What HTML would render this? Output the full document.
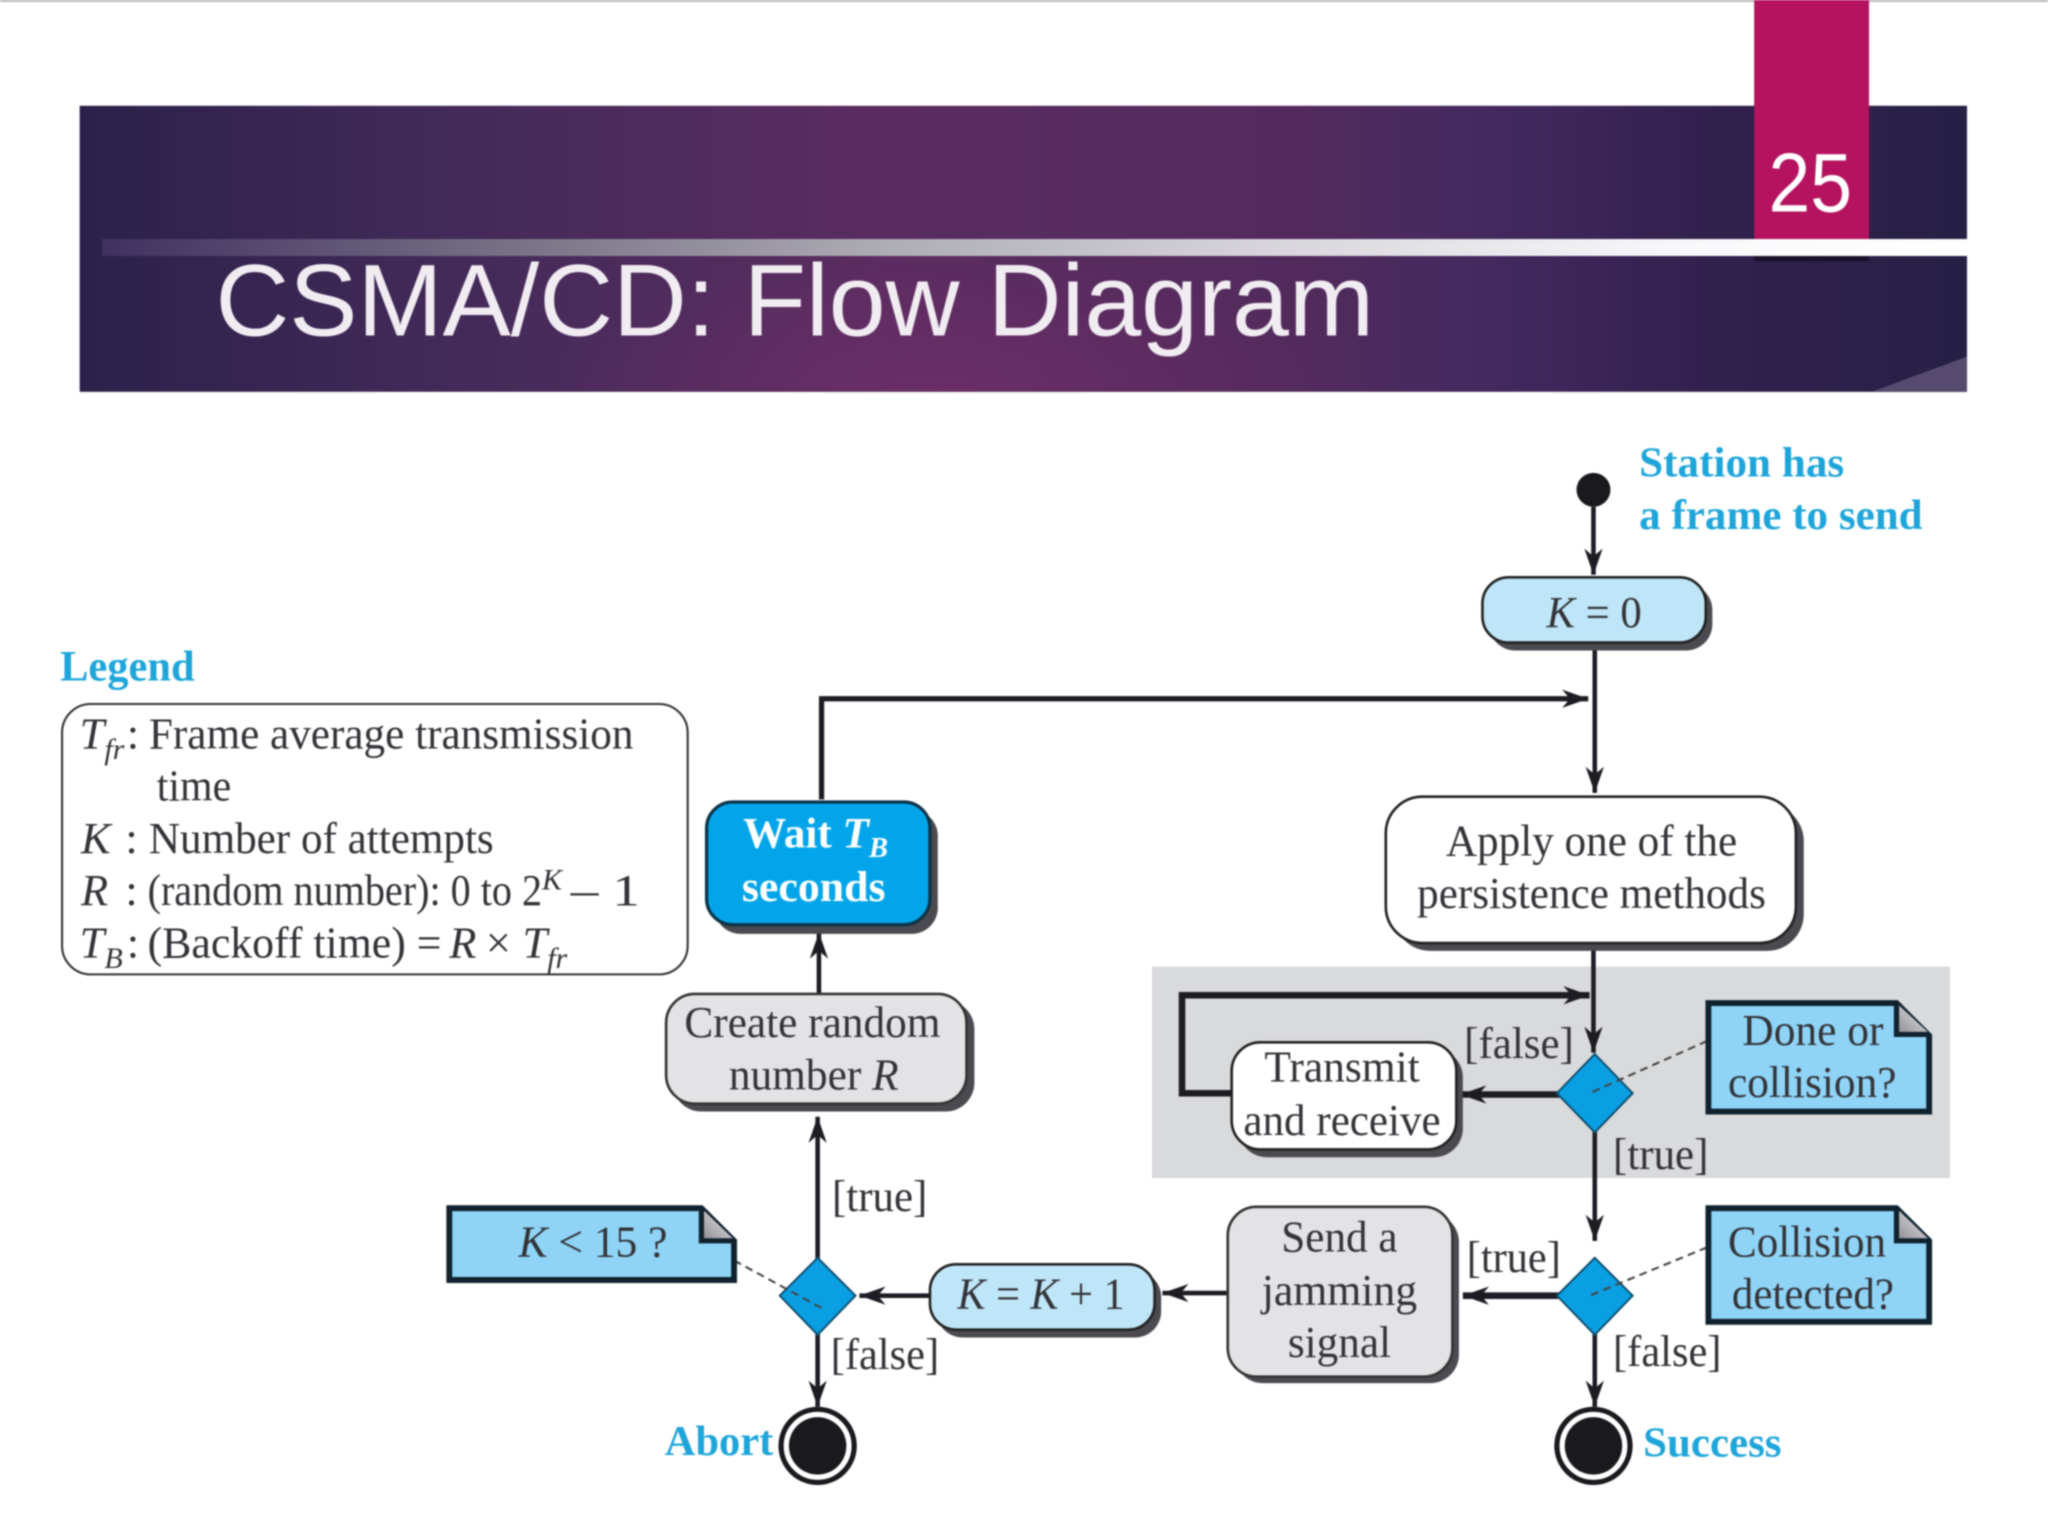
<!DOCTYPE html>
<html><head><meta charset="utf-8"><style>
html,body{margin:0;padding:0;background:#fff;width:2048px;height:1536px;overflow:hidden}
svg{display:block;filter:blur(.7px)}
text{font-family:"Liberation Serif",serif;fill:#333338;font-size:34px}
.i{font-style:italic}
.b{font-weight:bold;fill:#1ea5da}
.m{text-anchor:middle}
.s{fill:#4a4a50}
.l{fill:none;stroke:#1c1c22;stroke-width:3.5}
.t{fill:none;stroke:#1c1c22;stroke-width:5}
.d{fill:#0a9fe2;stroke:#0e4f70;stroke-width:1.5}
.n{fill:#8fd4f6;stroke:#10222e;stroke-width:4.5}
.da{fill:none;stroke:#444;stroke-width:1.6;stroke-dasharray:6 4}
</style></head><body>
<svg xmlns="http://www.w3.org/2000/svg" width="2048" height="1536" viewBox="0 0 1568 1176">
<defs>
<linearGradient id="bg" x1="0" x2="1" y1="0" y2="0">
<stop offset="0" stop-color="#2a2149"/><stop offset=".2" stop-color="#432a58"/><stop offset=".42" stop-color="#5a2c60"/><stop offset=".65" stop-color="#522a5c"/><stop offset=".74" stop-color="#44295f"/><stop offset=".87" stop-color="#30204c"/><stop offset="1" stop-color="#262045"/>
</linearGradient>
<radialGradient id="gl" gradientUnits="userSpaceOnUse" cx="0" cy="0" r="1" gradientTransform="translate(720 300) scale(300 110)">
<stop offset="0" stop-color="#74306a" stop-opacity=".6"/><stop offset="1" stop-color="#74306a" stop-opacity="0"/>
</radialGradient>
<linearGradient id="bar" x1="0" x2="1" y1="0" y2="0">
<stop offset="0" stop-color="#40305f"/><stop offset=".25" stop-color="#7f7a8c"/><stop offset=".42" stop-color="#aeacb4"/><stop offset=".62" stop-color="#d6d4da"/><stop offset=".85" stop-color="#f8f8fa"/><stop offset="1" stop-color="#fff"/>
</linearGradient>
<linearGradient id="fold" x1="0" x2="1" y1="1" y2="0"><stop offset="0" stop-color="#8d8d92"/><stop offset="1" stop-color="#f0f0f2"/></linearGradient>
<marker id="a" markerUnits="userSpaceOnUse" markerWidth="24" markerHeight="20" refX="20" refY="8" orient="auto"><path d="M0 1 L20 8 L0 15 L6 8Z" fill="#1c1c22"/></marker>
</defs>
<rect width="1568" height="1176" fill="#fff"/>
<rect width="1568" height="1.5" fill="#b8b8b8"/>

<!-- banner -->
<rect x="61" y="81" width="1445" height="219" fill="url(#bg)"/>
<rect x="61" y="81" width="1445" height="219" fill="url(#gl)"/>
<polygon points="1433,300 1506,300 1506,273" fill="#564b6e"/>
<rect x="1343" y="196" width="88" height="4" fill="#1a1228"/>
<rect x="1343" y="0" width="88" height="183" fill="#b5135f"/>
<rect x="78" y="183" width="1428" height="13" fill="url(#bar)"/>
<text x="1354" y="162" textLength="64" lengthAdjust="spacingAndGlyphs" style="font-family:'Liberation Sans',sans-serif;font-size:64px;fill:#fff">25</text>
<text x="165" y="257" textLength="887" lengthAdjust="spacingAndGlyphs" style="font-family:'Liberation Sans',sans-serif;font-size:78px;fill:#f0ecf1">CSMA/CD: Flow Diagram</text>

<!-- grey zone -->
<rect x="882" y="740" width="611" height="162" fill="#d9dadc"/>

<!-- labels top -->
<text class="b" x="1255" y="365" textLength="157" lengthAdjust="spacingAndGlyphs" style="font-size:32px">Station has</text>
<text class="b" x="1255" y="405" textLength="217" lengthAdjust="spacingAndGlyphs" style="font-size:32px">a frame to send</text>
<text class="b" x="46" y="521" textLength="103" lengthAdjust="spacingAndGlyphs" style="font-size:33px">Legend</text>

<!-- connectors -->
<circle cx="1220" cy="375" r="13" fill="#1a1a1e"/>
<path class="l" d="M1220 388V440" marker-end="url(#a)"/>
<path class="l" d="M1221 495V607" marker-end="url(#a)"/>
<path class="t" style="stroke-width:4" d="M629 612V535H1216" marker-end="url(#a)"/>
<path class="l" d="M1220 725V806" marker-end="url(#a)"/>
<path class="t" d="M943 837H905V762H1217" marker-end="url(#a)"/>
<path class="t" d="M1195 838H1118" marker-end="url(#a)"/>
<path class="l" d="M1221 866V950" marker-end="url(#a)"/>
<path class="t" d="M1195 992H1120" marker-end="url(#a)"/>
<path class="l" d="M1221 1020V1077" marker-end="url(#a)"/>
<path class="l" d="M940 990H890" marker-end="url(#a)"/>
<path class="l" d="M712 992H658" marker-end="url(#a)"/>
<path class="l" d="M626 964V855" marker-end="url(#a)"/>
<path class="l" d="M627 761V714" marker-end="url(#a)"/>
<path class="l" d="M626 1020V1077" marker-end="url(#a)"/>

<!-- K=0 -->
<rect class="s" x="1140" y="447" width="171" height="51" rx="20"/>
<rect x="1135" y="442" width="171" height="50" rx="20" fill="#bfe6f8" stroke="#222" stroke-width="2"/>
<text x="1184" y="480" textLength="73" lengthAdjust="spacingAndGlyphs"><tspan class="i">K</tspan> = 0</text>

<!-- Apply -->
<rect class="s" x="1067" y="616" width="314" height="112" rx="28"/>
<rect x="1061" y="610" width="314" height="112" rx="28" fill="#fff" stroke="#222" stroke-width="2"/>
<text x="1107" y="655" textLength="223" lengthAdjust="spacingAndGlyphs">Apply one of the</text>
<text x="1085" y="695" textLength="267" lengthAdjust="spacingAndGlyphs">persistence methods</text>

<!-- Transmit -->
<rect class="s" x="948" y="803" width="172" height="83" rx="22"/>
<rect x="943" y="798" width="172" height="82" rx="22" fill="#fff" stroke="#222" stroke-width="2"/>
<text x="968" y="828" textLength="119" lengthAdjust="spacingAndGlyphs">Transmit</text>
<text x="952" y="869" textLength="151" lengthAdjust="spacingAndGlyphs">and receive</text>
<text x="1121" y="810" textLength="84" lengthAdjust="spacingAndGlyphs">[false]</text>
<text x="1235" y="895" textLength="73" lengthAdjust="spacingAndGlyphs">[true]</text>

<!-- diamonds -->
<polygon class="d" points="1221,807 1250,837 1221,867 1192,837"/>
<polygon class="d" points="1221,963 1250,992 1221,1022 1192,992"/>
<polygon class="d" points="626,963 655,992 626,1022 597,992"/>
<path class="da" d="M1307 797L1217 837"/>
<path class="da" d="M1307 955L1217 992"/>
<path class="da" d="M562 965L630 1002"/>

<!-- notes -->
<path class="n" d="M1308 768H1452L1477 793V851H1308Z"/>
<polygon points="1452,768 1452,791 1477,791" fill="url(#fold)"/>
<path d="M1452 768V792H1477" fill="none" stroke="#10222e" stroke-width="4"/>
<text x="1334" y="800" textLength="108" lengthAdjust="spacingAndGlyphs">Done or</text>
<text x="1323" y="840" textLength="129" lengthAdjust="spacingAndGlyphs">collision?</text>

<path class="n" d="M1308 925H1452L1477 950V1012H1308Z"/>
<polygon points="1452,925 1452,949 1477,949" fill="url(#fold)"/>
<path d="M1452 925V950H1477" fill="none" stroke="#10222e" stroke-width="4"/>
<text x="1323" y="962" textLength="121" lengthAdjust="spacingAndGlyphs">Collision</text>
<text x="1326" y="1002" textLength="124" lengthAdjust="spacingAndGlyphs">detected?</text>

<path class="n" d="M344 925H537L562 950V980H344Z"/>
<polygon points="537,925 537,949 562,949" fill="url(#fold)"/>
<path d="M537 925V950H562" fill="none" stroke="#10222e" stroke-width="4"/>
<text x="397" y="962" textLength="114" lengthAdjust="spacingAndGlyphs"><tspan class="i">K</tspan> &lt; 15 ?</text>

<!-- Send -->
<rect class="s" x="945" y="929" width="172" height="130" rx="22"/>
<rect x="940" y="924" width="172" height="130" rx="22" fill="#e3e3e6" stroke="#333" stroke-width="2"/>
<text x="981" y="958" textLength="89" lengthAdjust="spacingAndGlyphs">Send a</text>
<text x="966" y="999" textLength="119" lengthAdjust="spacingAndGlyphs">jamming</text>
<text x="986" y="1039" textLength="79" lengthAdjust="spacingAndGlyphs">signal</text>
<text x="1123" y="974" textLength="72" lengthAdjust="spacingAndGlyphs">[true]</text>
<text x="1235" y="1046" textLength="83" lengthAdjust="spacingAndGlyphs">[false]</text>

<!-- K=K+1 -->
<rect class="s" x="717" y="973" width="172" height="51" rx="20"/>
<rect x="712" y="968" width="172" height="50" rx="20" fill="#bfe6f8" stroke="#222" stroke-width="2"/>
<text x="733" y="1002" textLength="128" lengthAdjust="spacingAndGlyphs"><tspan class="i">K</tspan> = <tspan class="i">K</tspan> + 1</text>

<text x="637" y="927" textLength="73" lengthAdjust="spacingAndGlyphs">[true]</text>
<text x="636" y="1048" textLength="83" lengthAdjust="spacingAndGlyphs">[false]</text>

<!-- Create -->
<rect class="s" x="515" y="766" width="231" height="85" rx="22"/>
<rect x="510" y="761" width="230" height="84" rx="22" fill="#e3e3e6" stroke="#333" stroke-width="2"/>
<text x="524" y="794" textLength="196" lengthAdjust="spacingAndGlyphs">Create random</text>
<text x="558" y="834" textLength="130" lengthAdjust="spacingAndGlyphs">number <tspan class="i">R</tspan></text>

<!-- Wait -->
<rect class="s" x="547" y="620" width="171" height="95" rx="20"/>
<rect x="541" y="614" width="171" height="94" rx="20" fill="#02a5ea" stroke="#0d3348" stroke-width="2.5"/>
<text x="569" y="649" style="font-weight:bold;fill:#fff;font-size:33px">Wait <tspan class="i">T</tspan><tspan class="i" dy="7" style="font-size:22px">B</tspan></text>
<text x="568" y="690" textLength="110" lengthAdjust="spacingAndGlyphs" style="font-weight:bold;fill:#fff;font-size:33px">seconds</text>

<!-- Legend -->
<rect x="47.500" y="539" width="479" height="207" rx="22" fill="#fff" stroke="#333" stroke-width="1.6"/>
<text class="i" x="61" y="573">T<tspan dy="8" style="font-size:23px">fr</tspan></text><text x="97" y="573">:</text>
<text x="114" y="573" textLength="371" lengthAdjust="spacingAndGlyphs">Frame average transmission</text>
<text x="120" y="613" textLength="57" lengthAdjust="spacingAndGlyphs">time</text>
<text class="i" x="62" y="653">K</text><text x="96" y="653">:</text>
<text x="114" y="653" textLength="264" lengthAdjust="spacingAndGlyphs">Number of attempts</text>
<text class="i" x="62" y="693">R</text><text x="96" y="693">:</text>
<text x="113" y="693" textLength="302" lengthAdjust="spacingAndGlyphs">(random number): 0 to 2</text>
<text class="i" x="415" y="681" style="font-size:23px">K</text>
<text x="437" y="693" textLength="53" lengthAdjust="spacingAndGlyphs">– 1</text>
<text class="i" x="61" y="733">T<tspan dy="8" style="font-size:23px">B</tspan></text><text x="97" y="733">:</text>
<text x="113" y="733" textLength="225" lengthAdjust="spacingAndGlyphs">(Backoff time) =</text>
<text class="i" x="344" y="733">R</text><text x="372" y="733">×</text>
<text class="i" x="400" y="733">T<tspan dy="8" style="font-size:23px">fr</tspan></text>

<!-- end nodes -->
<circle cx="626" cy="1107" r="28" fill="#fff" stroke="#1a1a1e" stroke-width="4"/>
<circle cx="626" cy="1107" r="22" fill="#1a1a1e"/>
<circle cx="1220" cy="1107" r="28" fill="#fff" stroke="#1a1a1e" stroke-width="4"/>
<circle cx="1220" cy="1107" r="22" fill="#1a1a1e"/>
<text class="b" x="509" y="1114" textLength="83" lengthAdjust="spacingAndGlyphs" style="font-size:32px">Abort</text>
<text class="b" x="1258" y="1115" textLength="106" lengthAdjust="spacingAndGlyphs" style="font-size:32px">Success</text>
</svg>
</body></html>
